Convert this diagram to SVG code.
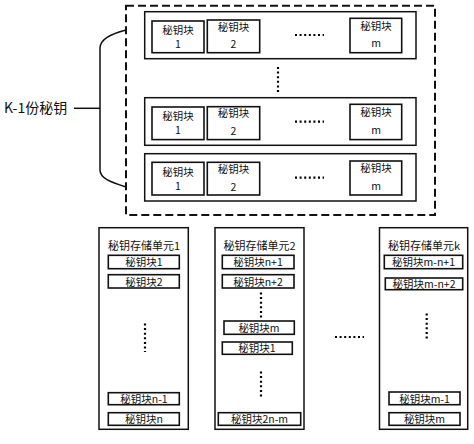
<svg xmlns="http://www.w3.org/2000/svg" width="474" height="444" viewBox="0 0 474 444">
<style>
.box{fill:#fff;stroke:#111;stroke-width:1.5}
.blk{fill:#fff;stroke:#111;stroke-width:1.6}
.t{font-family:"Noto Sans CJK SC","Liberation Sans",sans-serif;font-size:10.5px;fill:#111;text-anchor:middle}
.tt{font-family:"Noto Sans CJK SC","Liberation Sans",sans-serif;font-size:11px;fill:#111;text-anchor:middle}
.dots{stroke:#000;stroke-width:2.2;stroke-dasharray:2 2.6;fill:none}
.ln{stroke:#111;stroke-width:1.5;fill:none}
</style>
<rect width="474" height="444" fill="#fff"/>
<g id="label">
<text x="4" y="113" style="font-family:'Noto Sans CJK SC','Liberation Sans',sans-serif;font-size:14px;fill:#111">K-1份秘钥</text>
</g>
<g id="connectors">
<path class="ln" d="M126,30 C110,34 100,40 100,48 L100,170 C100,178 110,182 126,187"/>
<line class="ln" x1="74" y1="108.3" x2="100" y2="108.3"/>
</g>
<g id="keyset">
<rect x="126" y="5.7" width="309" height="209.3" fill="none" stroke="#111" stroke-width="2" stroke-dasharray="8 4"/>
<line class="dots" x1="278" y1="67" x2="278" y2="94"/>
</g>
<g id="row1">
<rect class="box" x="144.7" y="11.7" width="271.3" height="47"/>
<rect class="blk" x="152" y="21" width="52" height="31.7"/>
<text class="t" x="178" y="34">秘钥块</text><text class="t" x="178" y="48">1</text>
<rect class="blk" x="207.3" y="20" width="52.4" height="32.7"/>
<text class="t" x="233.5" y="31">秘钥块</text><text class="t" x="233.5" y="48">2</text>
<line class="dots" x1="295" y1="35" x2="324" y2="35"/>
<rect class="blk" x="350" y="18.3" width="51.7" height="34.4"/>
<text class="t" x="376" y="30">秘钥块</text><text class="t" x="376" y="47">m</text>
</g>
<g id="row2" transform="translate(0,86)">
<rect class="box" x="144.7" y="11.7" width="271.3" height="47.6"/>
<rect class="blk" x="152" y="21" width="52" height="32.6"/>
<text class="t" x="178" y="34">秘钥块</text><text class="t" x="178" y="48">1</text>
<rect class="blk" x="207.3" y="20.7" width="52.4" height="32.9"/>
<text class="t" x="233.5" y="31">秘钥块</text><text class="t" x="233.5" y="48.5">2</text>
<line class="dots" x1="295" y1="35.7" x2="324" y2="35.7"/>
<rect class="blk" x="350" y="18.3" width="51.7" height="35.3"/>
<text class="t" x="376" y="30">秘钥块</text><text class="t" x="376" y="47.5">m</text>
</g>
<g id="row3" transform="translate(0,142)">
<rect class="box" x="144.7" y="11.7" width="271.3" height="47.3"/>
<rect class="blk" x="152" y="20.3" width="52" height="32.7"/>
<text class="t" x="178" y="34">秘钥块</text><text class="t" x="178" y="48">1</text>
<rect class="blk" x="207.3" y="20.3" width="52.4" height="32.7"/>
<text class="t" x="233.5" y="31">秘钥块</text><text class="t" x="233.5" y="48.5">2</text>
<line class="dots" x1="295" y1="35.7" x2="324" y2="35.7"/>
<rect class="blk" x="350" y="19" width="51.7" height="34"/>
<text class="t" x="376" y="30">秘钥块</text><text class="t" x="376" y="47.5">m</text>
</g>
<g id="unit1">
<rect class="box" x="99" y="227.7" width="89.3" height="201.6"/>
<text class="tt" x="144" y="250">秘钥存储单元1</text>
<rect class="blk" x="108.3" y="255.3" width="71" height="13.4"/>
<text class="t" x="144" y="266">秘钥块1</text>
<rect class="blk" x="108.3" y="274.7" width="71" height="13.3"/>
<text class="t" x="144" y="285.5">秘钥块2</text>
<line class="dots" x1="145" y1="323.5" x2="145" y2="352"/>
<rect class="blk" x="108.3" y="392.7" width="71" height="12"/>
<text class="t" x="144" y="403">秘钥块n-1</text>
<rect class="blk" x="108.3" y="412.7" width="71" height="12.6"/>
<text class="t" x="144" y="423">秘钥块n</text>
</g>
<g id="unit2">
<rect class="box" x="215" y="227.7" width="89" height="201.6"/>
<text class="tt" x="259.5" y="250">秘钥存储单元2</text>
<rect class="blk" x="222.3" y="255.3" width="71.7" height="13.4"/>
<text class="t" x="258" y="266">秘钥块n+1</text>
<rect class="blk" x="222.3" y="274.7" width="71.7" height="13.3"/>
<text class="t" x="258" y="285.5">秘钥块n+2</text>
<line class="dots" x1="261" y1="292.5" x2="261" y2="319"/>
<rect class="blk" x="224" y="321" width="70.3" height="13.3"/>
<text class="t" x="259" y="331.5">秘钥块m</text>
<rect class="blk" x="222.3" y="342" width="70" height="12.3"/>
<text class="t" x="257" y="352">秘钥块1</text>
<line class="dots" x1="261" y1="371.5" x2="261" y2="398"/>
<rect class="blk" x="218.3" y="412.7" width="82.4" height="12.6"/>
<text class="t" x="259.5" y="423">秘钥块2n-m</text>
</g>
<g id="gap">
<line class="dots" x1="335" y1="337" x2="364" y2="337"/>
</g>
<g id="unitk">
<rect class="box" x="379.5" y="227.7" width="88.2" height="201.6"/>
<text class="tt" x="424" y="250">秘钥存储单元k</text>
<rect class="blk" x="384.3" y="255.3" width="78.4" height="13.4"/>
<text class="t" x="423.5" y="266">秘钥块m-n+1</text>
<rect class="blk" x="385.3" y="278" width="77.4" height="11.7"/>
<text class="t" x="424" y="288">秘钥块m-n+2</text>
<line class="dots" x1="426.7" y1="313.5" x2="426.7" y2="341"/>
<rect class="blk" x="389" y="392" width="71" height="12.7"/>
<text class="t" x="424.5" y="402.5">秘钥块m-1</text>
<rect class="blk" x="389" y="412.7" width="71" height="12.6"/>
<text class="t" x="424.5" y="423">秘钥块m</text>
</g>
</svg>
